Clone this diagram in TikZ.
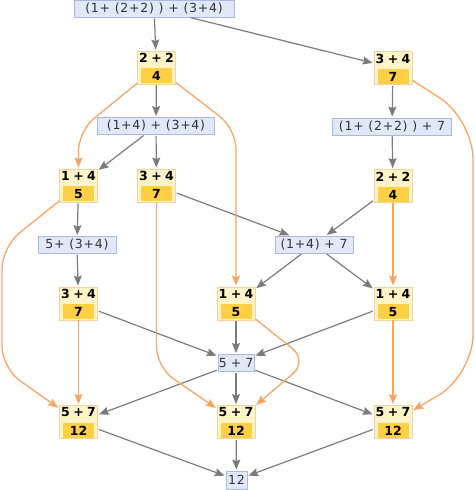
\documentclass[tikz,border=0pt]{standalone}
\usepackage{fontspec}
\setmainfont{DejaVu Sans}
\newfontfamily\bluefont[LetterSpace=6]{DejaVu Sans}
\newfontfamily\bluethin[LetterSpace=4,WordSpace=0.9]{DejaVu Sans}
\newfontfamily\yfont[WordSpace=0.8]{DejaVu Sans}
\usetikzlibrary{arrows.meta}
\definecolor{bfill}{HTML}{E1E8F8}
\definecolor{bdraw}{HTML}{A9B8E6}
\definecolor{btext}{HTML}{333333}
\definecolor{yfill}{HTML}{FFF3C8}
\definecolor{ydraw}{HTML}{F2D29E}
\definecolor{ygold}{HTML}{FFD044}
\definecolor{gcol}{HTML}{7C7C7C}
\definecolor{ocol}{HTML}{F8A561}
\tikzset{
  bbox/.style={draw=bdraw, fill=bfill, line width=0.8pt, inner sep=0pt,
    minimum height=17pt, text=btext, font=\bluefont\fontsize{12.5}{14}\selectfont},
  ybox/.style={draw=ydraw, fill=yfill, line width=0.8pt, inner sep=0pt,
    minimum width=38pt, minimum height=33pt},
  yin/.style={fill=ygold, inner sep=0pt, minimum width=31pt, minimum height=15pt,
    font=\yfont\bfseries\fontsize{12.5}{14}\selectfont},
  ytop/.style={inner sep=0pt, font=\yfont\bfseries\fontsize{12.5}{14}\selectfont},
  gedge/.style={draw=gcol, line width=1.2pt, -{Stealth[length=10pt,width=8pt,inset=1.5pt]},
    shorten >=1pt, shorten <=1pt},
  oedge/.style={draw=ocol, line width=1.3pt, -{Stealth[length=10pt,width=8pt,inset=1.5pt]},
    shorten >=1pt}
}
\newcommand\ynode[4]{%
  \node[ybox] (#1) at (#2) {};
  \node[yin] at ([yshift=-8.5pt]#1.center) {#4};
  \node[ytop] at ([yshift=9.5pt]#1.center) {#3};
}
\begin{document}
\begin{tikzpicture}[x=1pt,y=1pt]
\useasboundingbox (0,0) rectangle (474,490);
% blue state nodes
\node[bbox, minimum width=160pt] (A) at (154,481.5) {(1+ (2+2) ) + (3+4)};
\node[bbox, minimum width=117pt] (D) at (156,364) {(1+4) + (3+4)};
\node[bbox, minimum width=119pt] (E) at (392,363.5) {(1+ (2+2) ) + 7};
\node[bbox, minimum width=78pt] (I) at (77,245) {5+ (3+4)};
\node[bbox, minimum width=78pt] (J) at (314,245.5) {(1+4) + 7};
\node[bbox, minimum width=36pt, font=\bluethin\fontsize{12.5}{14}\selectfont] (N) at (236,127) {5 + 7};
\node[bbox, minimum width=21pt, minimum height=18pt] (R) at (236.5,10) {12};
% yellow event nodes
\ynode{B}{156.5,422.5}{2 + 2}{4}
\ynode{C}{393,422}{3 + 4}{7}
\ynode{F}{78.5,304.5}{1 + 4}{5}
\ynode{G}{156.5,304.5}{3 + 4}{7}
\ynode{H}{393,304}{2 + 2}{4}
\ynode{K}{78.5,186.5}{3 + 4}{7}
\ynode{L}{236,186.5}{1 + 4}{5}
\ynode{M}{393,186.5}{1 + 4}{5}
\ynode{O}{78.5,68}{5 + 7}{12}
\ynode{P}{236,68}{5 + 7}{12}
\ynode{Q}{393,68}{5 + 7}{12}
% gray edges
\foreach \s/\t in {A/B, A/C, B/D, C/E, D/F, D/G, E/H, F/I, G/J, H/J, I/K, J/L, J/M,
  K/N, L/N, M/N, N/O, N/P, N/Q, O/R, P/R, Q/R}
  \draw[gedge] (\s) -- (\t);
% orange edges
\draw[oedge, rounded corners=20pt] (B) -- (78.5,359) -- (F);
\draw[oedge, rounded corners=20pt] (B) -- (236,361) -- (L);
\draw[oedge, rounded corners=40pt] (C) -- (473,371) -- (473,115) -- (Q);
\draw[oedge, rounded corners=22pt] (F) -- (2,243) -- (2,122) -- (O);
\draw[oedge, rounded corners=20pt] (G) -- (156.5,123) -- (P);
\draw[oedge, rounded corners=20pt] (L) -- (308,129) -- (P);
\draw[oedge] (H) -- (M);
\draw[oedge] (K) -- (O);
\draw[oedge] (M) -- (Q);
\end{tikzpicture}
\end{document}
